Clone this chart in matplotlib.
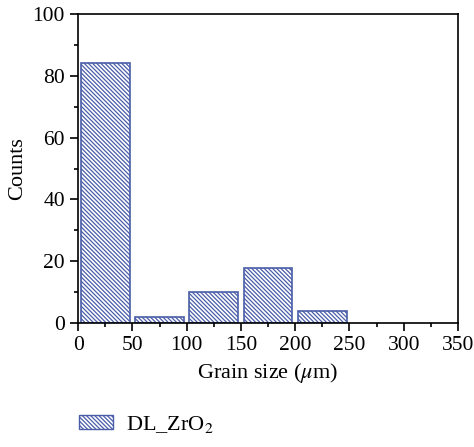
import matplotlib.pyplot as plt
from matplotlib.patches import Patch
from matplotlib.ticker import MultipleLocator

bin_left = [0, 50, 100, 150, 200]
counts = [84, 2, 10, 18, 4]
label = 'DL_ZrO$_2$'

plt.rcParams['font.family'] = 'Liberation Serif'
plt.rcParams['mathtext.fontset'] = 'stix'
plt.rcParams['hatch.color'] = '#3d52a3'
plt.rcParams['hatch.linewidth'] = 0.9

hatch = '\\' * 8

fig = plt.figure(figsize=(4.74, 4.47), dpi=100)
ax = fig.add_axes([0.165, 0.277, 0.801, 0.692])

ax.bar([b + 2.5 for b in bin_left], counts, width=45, align='edge',
       color='white', edgecolor='#4a5ea8', linewidth=1.2, hatch=hatch)

ax.set_xlim(0, 350)
ax.set_ylim(0, 100)
ax.xaxis.set_major_locator(MultipleLocator(50))
ax.xaxis.set_minor_locator(MultipleLocator(25))
ax.yaxis.set_major_locator(MultipleLocator(20))
ax.yaxis.set_minor_locator(MultipleLocator(10))
ax.tick_params(which='both', direction='out', top=False, right=False, labelsize=15.5, width=1.2)
ax.tick_params(which='major', length=6)
ax.tick_params(which='minor', length=3)
for s in ax.spines.values():
    s.set_linewidth(1.2)

ax.set_xlabel('Grain size ($\\mu$m)', fontsize=16)
ax.set_ylabel('Counts', fontsize=16)

h = Patch(facecolor='white', edgecolor='#4a5ea8', hatch=hatch, label=label)
fig.legend(handles=[h], loc='lower left', bbox_to_anchor=(0.125, -0.018), frameon=False,
           fontsize=16, handlelength=1.5, handleheight=0.6, handletextpad=0.6)

fig.savefig('out.png', dpi=100)
